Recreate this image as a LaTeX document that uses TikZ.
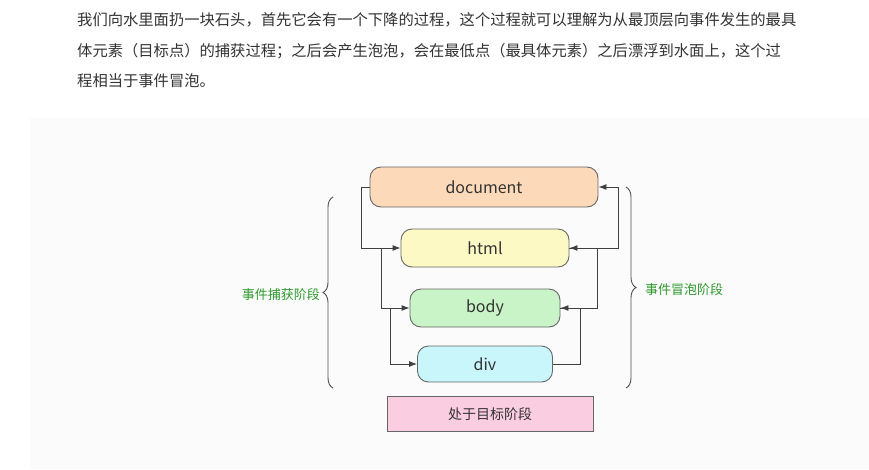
\documentclass[tikz,border=0pt]{standalone}
\usepackage{fontspec}
\setmainfont{Noto Sans CJK SC}
\usetikzlibrary{decorations.pathreplacing,arrows.meta}
\definecolor{tx}{HTML}{333333}
\definecolor{gr}{HTML}{2E9A2E}
\begin{document}
\begin{tikzpicture}[x=1pt,y=-1pt,
  el/.style={draw=black!60,line width=0.9pt,rounded corners=11pt,minimum height=38pt,font=\fontsize{16}{18}\selectfont,text=tx,inner sep=0pt},
  ln/.style={draw=black!75,line width=0.9pt},
  ar/.style={ln,-{Latex[length=8pt,width=6pt]}},
  br/.style={draw=black!70,line width=0.9pt,decorate,decoration={brace,amplitude=10pt}},
  para/.style={anchor=west,font=\fontsize{15.3}{17}\selectfont,text=tx,inner sep=0pt}]
\useasboundingbox (0,0) rectangle (869,469);
\fill[white] (0,0) rectangle (869,469);
\fill[black!1.5] (30,118) rectangle (869,469);
\node[para] (p1) at (77,20) {我们向水里面扔一块石头，首先它会有一个下降的过程，这个过程就可以理解为从最顶层向事件发生的最具};
\node[para] (p2) at (77,51) {体元素（目标点）的捕获过程；之后会产生泡泡，会在最低点（最具体元素）之后漂浮到水面上，这个过};
\node[para] (p3) at (77,81) {程相当于事件冒泡。};
\node[el,fill={rgb,255:red,252;green,217;blue,184},minimum width=228pt,minimum height=40pt] (doc) at (484,187) {document};
\node[el,fill={rgb,255:red,253;green,249;blue,196},minimum width=168pt] (html) at (485,248) {html};
\node[el,fill={rgb,255:red,200;green,244;blue,200},minimum width=150pt] (body) at (485,308) {body};
\node[el,fill={rgb,255:red,200;green,246;blue,251},minimum width=135pt,minimum height=36pt] (div) at (485,364) {div};
\node[draw=black!60,line width=0.9pt,fill={rgb,255:red,251;green,205;blue,224},minimum width=206pt,minimum height=35pt,font=\fontsize{14}{16}\selectfont,text=tx] (tgt) at (490,414) {处于目标阶段};
% capture
\draw[ar] (doc.west) -- (361,187) |- (html.west);
\draw[ar] (381,248) |- (body.west);
\draw[ar] (390,308) |- (div.west);
% bubble
\draw[ar] (div.east) -- (580,364) |- (body.east);
\draw[ar] (560,308) -- (597,308) |- (html.east);
\draw[ar] (html.east) -- (618,248) |- (doc.east);
% braces
\coordinate (lb1) at (333,388); \coordinate (lb2) at (333,197);
\draw[br] (lb1) -- (lb2);
\coordinate (rb1) at (626,187); \coordinate (rb2) at (626,388);
\draw[br] (rb1) -- (rb2);
\node[anchor=east,text=gr,font=\fontsize{13}{15}\selectfont,inner sep=0pt] (lc) at (320,295) {事件捕获阶段};
\node[anchor=west,text=gr,font=\fontsize{13}{15}\selectfont,inner sep=0pt] (rc) at (645,290) {事件冒泡阶段};
\end{tikzpicture}
\end{document}
